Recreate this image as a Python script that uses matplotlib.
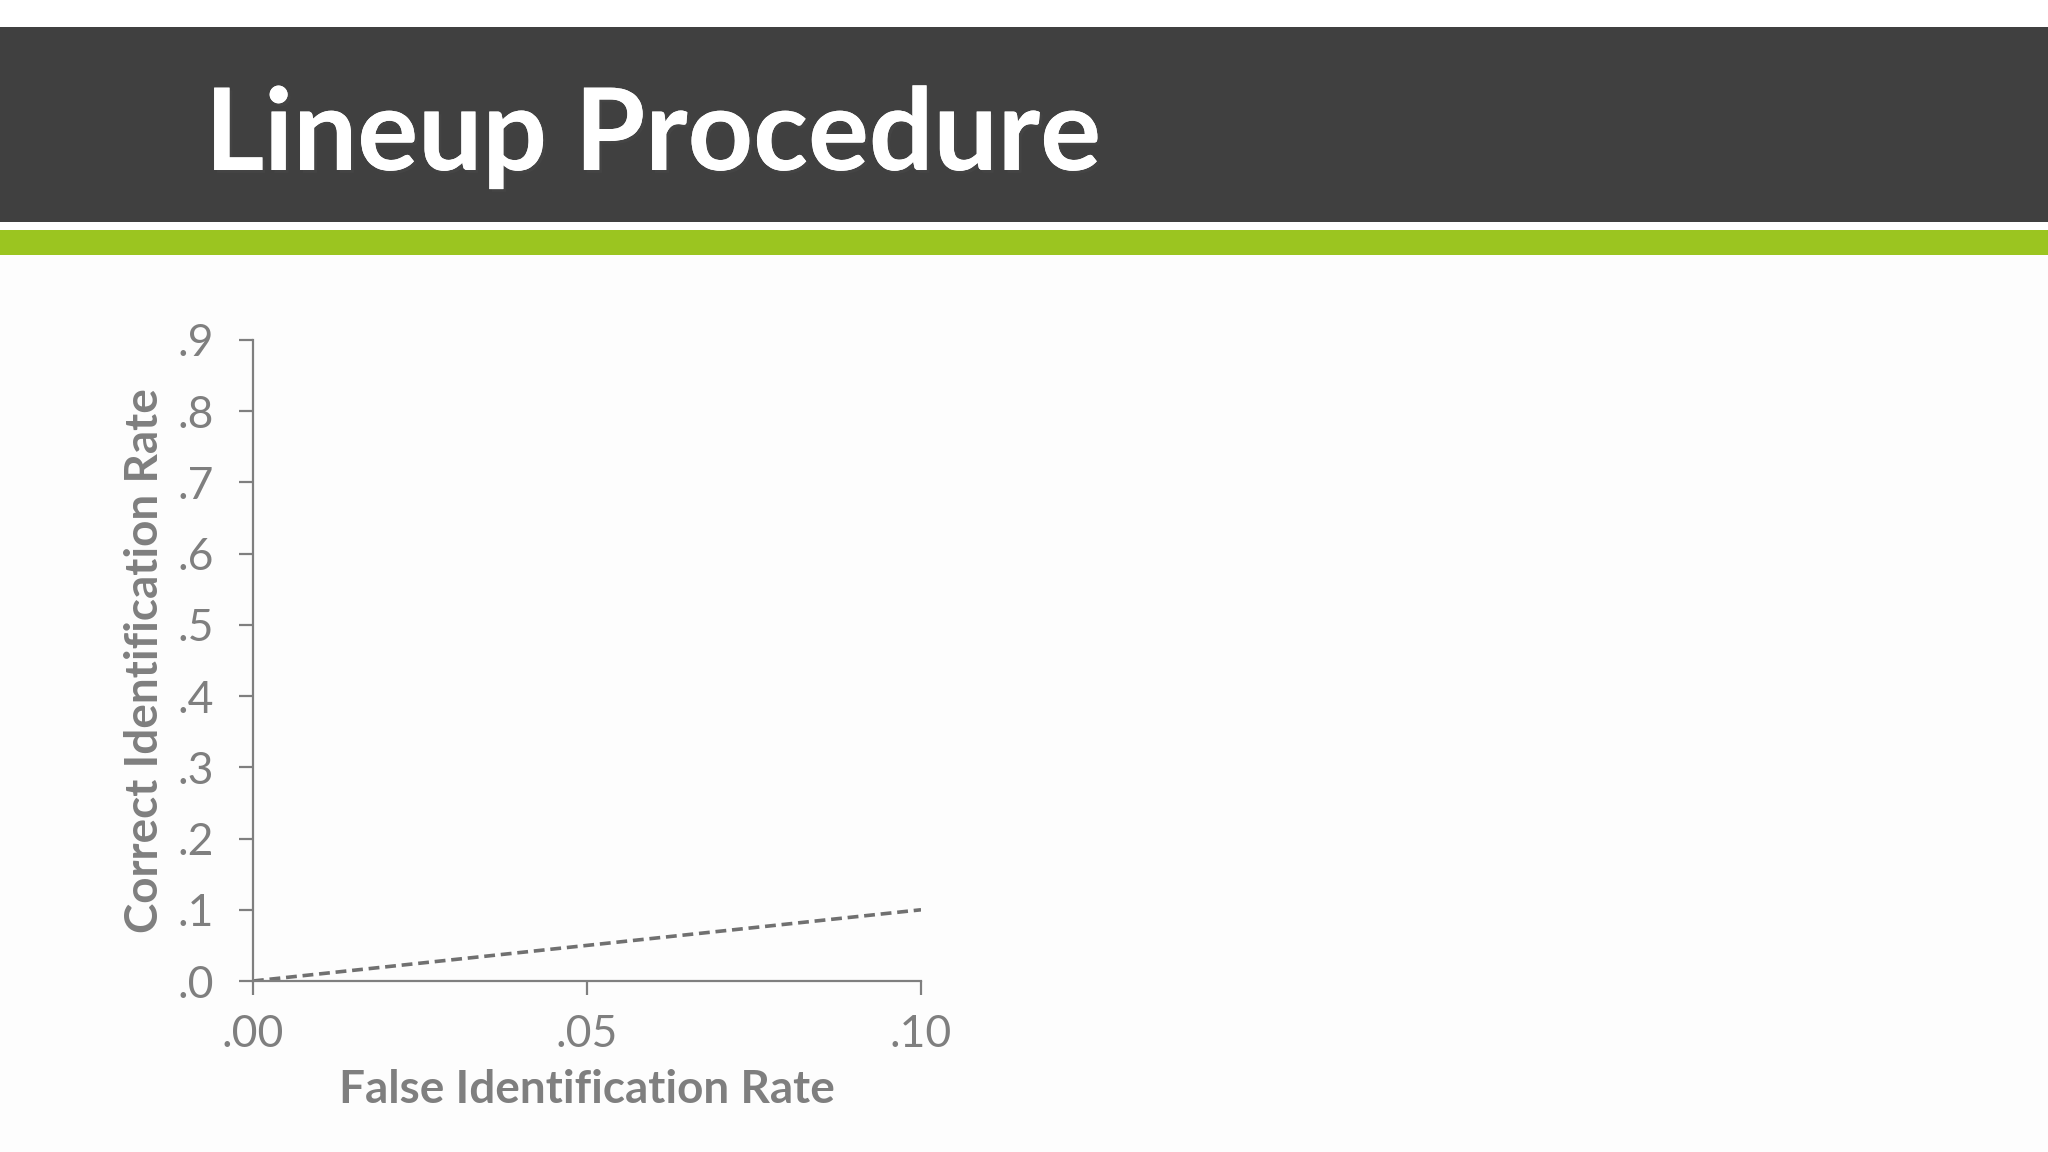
import matplotlib
matplotlib.use("Agg")
import matplotlib.pyplot as plt
from matplotlib.patches import Rectangle
import matplotlib.patheffects as pe

# chance line: correct ID rate equals false ID rate
false_id = [0.00, 0.10]
correct_id = [0.00, 0.10]
x_ticks = [0.00, 0.05, 0.10]
x_labels = [".00", ".05", ".10"]
y_ticks = [0.0, 0.1, 0.2, 0.3, 0.4, 0.5, 0.6, 0.7, 0.8, 0.9]
y_labels = [".0", ".1", ".2", ".3", ".4", ".5", ".6", ".7", ".8", ".9"]

GRAY = "#7f7f7f"
DARK, GREEN = "#404040", "#9bc520"
FONT = "Lato"

fig = plt.figure(figsize=(20.48, 11.52), dpi=100, facecolor="#fdfdfd")

# slide header: white strip, dark band, green rule
fig.patches.append(Rectangle((0, 1 - 27 / 1152), 1, 27 / 1152, transform=fig.transFigure,
                             facecolor="white", edgecolor="none"))
fig.patches.append(Rectangle((0, 1 - 222 / 1152), 1, 195 / 1152, transform=fig.transFigure,
                             facecolor=DARK, edgecolor="none"))
fig.patches.append(Rectangle((0, 1 - 230 / 1152), 1, 8 / 1152, transform=fig.transFigure,
                             facecolor="white", edgecolor="none"))
fig.patches.append(Rectangle((0, 1 - 255 / 1152), 1, 25 / 1152, transform=fig.transFigure,
                             facecolor=GREEN, edgecolor="none"))
fig.text(205 / 2048, 1 - 170 / 1152, "Lineup Procedure", color="white", fontsize=82,
         fontweight="bold", family=FONT, ha="left", va="baseline",
         path_effects=[pe.withSimplePatchShadow(offset=(2, -2), alpha=0.35), pe.Normal()])

ax = fig.add_axes([253 / 2048, 1 - 981 / 1152, 668 / 2048, 641 / 1152])
ax.set_facecolor("none")
ax.plot(false_id, correct_id, ls=(0, (3, 1.6)), lw=2.6, color="#707070")
ax.set_xlim(0, 0.1); ax.set_ylim(0, 0.9)
ax.set_xticks(x_ticks); ax.set_xticklabels(x_labels)
ax.set_yticks(y_ticks); ax.set_yticklabels(y_labels)
for s in ["top", "right"]:
    ax.spines[s].set_visible(False)
for s in ["left", "bottom"]:
    ax.spines[s].set_color(GRAY); ax.spines[s].set_linewidth(1.6)
ax.tick_params(axis="both", colors=GRAY, width=1.6, length=10, labelsize=32)
ax.tick_params(axis="y", pad=18)
ax.tick_params(axis="x", pad=14)
for t in ax.get_xticklabels() + ax.get_yticklabels():
    t.set_family(FONT)
ax.set_xlabel("False Identification Rate", fontsize=33, fontweight="bold", color=GRAY,
              family=FONT, labelpad=10)
ax.set_ylabel("Correct Identification Rate", fontsize=33, fontweight="bold", color=GRAY,
              family=FONT, labelpad=8)

fig.savefig("out.png", dpi=100, facecolor=fig.get_facecolor())
